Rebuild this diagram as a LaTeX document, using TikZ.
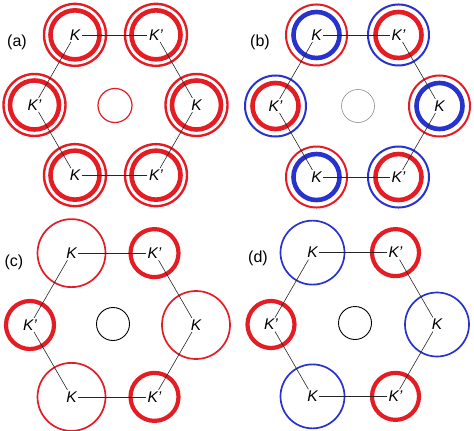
\documentclass[tikz,border=0pt]{standalone}
\usepackage{fontspec}
\setmainfont{Liberation Sans}
\definecolor{kred}{RGB}{228,28,36}
\definecolor{kblue}{RGB}{40,50,205}
\tikzset{
  klab/.style={font=\fontsize{15.5}{15.5}\selectfont\itshape, inner sep=1.5pt},
  plab/.style={font=\fontsize{16}{16}\selectfont, inner sep=0pt},
  conn/.style={draw=black!85, line width=0.6pt},
  thinring/.style={line width=2.4pt},
  thickring/.style={line width=4.6pt},
  single/.style={line width=1.7pt},
  bold/.style={line width=4.2pt}
}
\begin{document}
\begin{tikzpicture}[x=1pt,y=-1pt]
\useasboundingbox (0,0) rectangle (474,431);
% ---------- panel (a)
\foreach \i/\ang/\t in {1/120/K,2/60/K',3/0/K,4/300/K',5/240/K,6/180/K'}
  \node[klab] (a\i) at ({115.5+81*cos(\ang)},{105-81*sin(\ang)}) {\t};
\foreach \i in {1,...,6}{
  \draw[kred,thinring] (a\i.center) circle[radius=31pt];
  \draw[kred,thickring] (a\i.center) circle[radius=24.5pt];
}
\node[draw=kred,line width=1.2pt,circle,minimum size=34pt,inner sep=0pt] (ac) at (115,105.5) {};
\foreach \i/\j in {1/2,2/3,3/4,4/5,5/6,6/1} \draw[conn] (a\i) -- (a\j);
\node[plab] (la) at (17,42) {(a)};
% ---------- panel (b)
\foreach \i/\ang/\t in {1/120/K,2/60/K',3/0/K,4/300/K',5/240/K,6/180/K'}
  \node[klab] (b\i) at ({357.5+82*cos(\ang)},{106-82*sin(\ang)}) {\t};
\foreach \i in {1,3,5}{
  \draw[kred,line width=2pt] (b\i.center) circle[radius=30.5pt];
  \draw[kblue,thickring] (b\i.center) circle[radius=23pt];
}
\foreach \i in {2,4,6}{
  \draw[kblue,line width=2pt] (b\i.center) circle[radius=30.5pt];
  \draw[kred,thickring] (b\i.center) circle[radius=23pt];
}
\node[draw=black!45,line width=0.6pt,circle,minimum size=33pt,inner sep=0pt] (bc) at (358,106) {};
\foreach \i/\j in {1/2,2/3,3/4,4/5,5/6,6/1} \draw[conn] (b\i) -- (b\j);
\node[plab] (lb) at (260,42) {(b)};
% ---------- panel (c)
\foreach \i/\ang/\t in {1/120/K,2/60/K',3/0/K,4/300/K',5/240/K,6/180/K'}
  \node[klab] (c\i) at ({113+83*cos(\ang)},{325-83*sin(\ang)}) {\t};
\foreach \i in {1,3,5}
  \draw[kred,single] (c\i.center) circle[radius=34pt];
\foreach \i in {2,4,6}
  \draw[kred,bold] (c\i.center) circle[radius=24pt];
\node[draw=black,line width=0.9pt,circle,minimum size=33pt,inner sep=0pt] (cc) at (113,324) {};
\foreach \i/\j in {1/2,2/3,3/4,4/5,5/6,6/1} \draw[conn] (c\i) -- (c\j);
\node[plab] (lc) at (14,262) {(c)};
% ---------- panel (d)
\foreach \i/\ang/\t in {1/120/K,2/60/K',3/0/K,4/300/K',5/240/K,6/180/K'}
  \node[klab] (d\i) at ({354+83*cos(\ang)},{324.5-83*sin(\ang)}) {\t};
\foreach \i in {1,3,5}
  \draw[kblue,single] (d\i.center) circle[radius=32pt];
\foreach \i in {2,4,6}
  \draw[kred,bold] (d\i.center) circle[radius=23.5pt];
\node[draw=black,line width=0.9pt,circle,minimum size=33pt,inner sep=0pt] (dc) at (355,323) {};
\foreach \i/\j in {1/2,2/3,3/4,4/5,5/6,6/1} \draw[conn] (d\i) -- (d\j);
\node[plab] (ld) at (258,258) {(d)};
\end{tikzpicture}
\end{document}
